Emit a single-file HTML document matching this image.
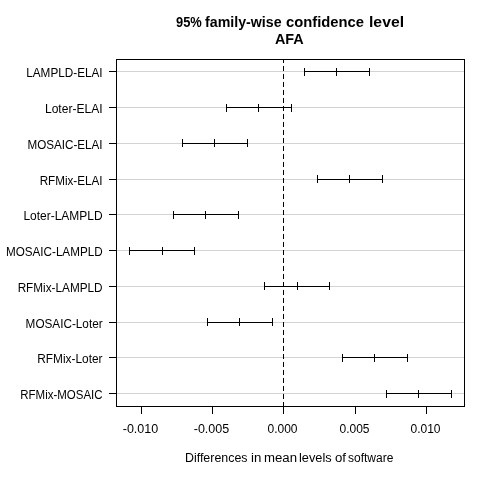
<!DOCTYPE html>
<html><head><meta charset="utf-8"><title>TukeyHSD AFA</title>
<style>
html,body{margin:0;padding:0;background:#fff;}
body{width:480px;height:480px;overflow:hidden;}
svg{display:block;}
text{font-family:"Liberation Sans",Arial,sans-serif;font-size:12px;fill:#000;}
text.b{font-weight:bold;font-size:14.4px;}
</style></head>
<body>
<svg width="480" height="480" viewBox="0 0 480 480">
<rect width="480" height="480" fill="#fff"/>
<g shape-rendering="crispEdges">
<rect x="117" y="71" width="347" height="1" fill="#d3d3d3"/>
<rect x="117" y="107" width="347" height="1" fill="#d3d3d3"/>
<rect x="117" y="143" width="347" height="1" fill="#d3d3d3"/>
<rect x="117" y="179" width="347" height="1" fill="#d3d3d3"/>
<rect x="117" y="214" width="347" height="1" fill="#d3d3d3"/>
<rect x="117" y="250" width="347" height="1" fill="#d3d3d3"/>
<rect x="117" y="286" width="347" height="1" fill="#d3d3d3"/>
<rect x="117" y="322" width="347" height="1" fill="#d3d3d3"/>
<rect x="117" y="357" width="347" height="1" fill="#d3d3d3"/>
<rect x="117" y="393" width="347" height="1" fill="#d3d3d3"/>
<rect x="283" y="60" width="1" height="3" fill="#000"/>
<rect x="283" y="66" width="1" height="5" fill="#000"/>
<rect x="283" y="74" width="1" height="5" fill="#000"/>
<rect x="283" y="82" width="1" height="5" fill="#000"/>
<rect x="283" y="90" width="1" height="5" fill="#000"/>
<rect x="283" y="98" width="1" height="5" fill="#000"/>
<rect x="283" y="106" width="1" height="5" fill="#000"/>
<rect x="283" y="114" width="1" height="5" fill="#000"/>
<rect x="283" y="122" width="1" height="5" fill="#000"/>
<rect x="283" y="130" width="1" height="5" fill="#000"/>
<rect x="283" y="138" width="1" height="5" fill="#000"/>
<rect x="283" y="146" width="1" height="5" fill="#000"/>
<rect x="283" y="154" width="1" height="5" fill="#000"/>
<rect x="283" y="162" width="1" height="5" fill="#000"/>
<rect x="283" y="170" width="1" height="5" fill="#000"/>
<rect x="283" y="178" width="1" height="5" fill="#000"/>
<rect x="283" y="186" width="1" height="5" fill="#000"/>
<rect x="283" y="194" width="1" height="5" fill="#000"/>
<rect x="283" y="202" width="1" height="5" fill="#000"/>
<rect x="283" y="210" width="1" height="5" fill="#000"/>
<rect x="283" y="218" width="1" height="5" fill="#000"/>
<rect x="283" y="226" width="1" height="5" fill="#000"/>
<rect x="283" y="234" width="1" height="5" fill="#000"/>
<rect x="283" y="242" width="1" height="5" fill="#000"/>
<rect x="283" y="250" width="1" height="5" fill="#000"/>
<rect x="283" y="258" width="1" height="5" fill="#000"/>
<rect x="283" y="266" width="1" height="5" fill="#000"/>
<rect x="283" y="274" width="1" height="5" fill="#000"/>
<rect x="283" y="282" width="1" height="5" fill="#000"/>
<rect x="283" y="290" width="1" height="5" fill="#000"/>
<rect x="283" y="298" width="1" height="5" fill="#000"/>
<rect x="283" y="306" width="1" height="5" fill="#000"/>
<rect x="283" y="314" width="1" height="5" fill="#000"/>
<rect x="283" y="322" width="1" height="5" fill="#000"/>
<rect x="283" y="330" width="1" height="5" fill="#000"/>
<rect x="283" y="338" width="1" height="5" fill="#000"/>
<rect x="283" y="346" width="1" height="5" fill="#000"/>
<rect x="283" y="354" width="1" height="5" fill="#000"/>
<rect x="283" y="362" width="1" height="5" fill="#000"/>
<rect x="283" y="370" width="1" height="5" fill="#000"/>
<rect x="283" y="378" width="1" height="5" fill="#000"/>
<rect x="283" y="386" width="1" height="5" fill="#000"/>
<rect x="283" y="394" width="1" height="5" fill="#000"/>
<rect x="283" y="402" width="1" height="4" fill="#000"/>
<rect x="304" y="71" width="66" height="1" fill="#000"/>
<rect x="304" y="68" width="1" height="8" fill="#000"/>
<rect x="336" y="68" width="1" height="8" fill="#000"/>
<rect x="369" y="68" width="1" height="8" fill="#000"/>
<rect x="226" y="107" width="66" height="1" fill="#000"/>
<rect x="226" y="104" width="1" height="8" fill="#000"/>
<rect x="258" y="104" width="1" height="8" fill="#000"/>
<rect x="291" y="104" width="1" height="8" fill="#000"/>
<rect x="182" y="143" width="66" height="1" fill="#000"/>
<rect x="182" y="139" width="1" height="8" fill="#000"/>
<rect x="214" y="139" width="1" height="8" fill="#000"/>
<rect x="247" y="139" width="1" height="8" fill="#000"/>
<rect x="317" y="179" width="66" height="1" fill="#000"/>
<rect x="317" y="175" width="1" height="8" fill="#000"/>
<rect x="349" y="175" width="1" height="8" fill="#000"/>
<rect x="382" y="175" width="1" height="8" fill="#000"/>
<rect x="173" y="214" width="66" height="1" fill="#000"/>
<rect x="173" y="211" width="1" height="8" fill="#000"/>
<rect x="205" y="211" width="1" height="8" fill="#000"/>
<rect x="238" y="211" width="1" height="8" fill="#000"/>
<rect x="129" y="250" width="66" height="1" fill="#000"/>
<rect x="129" y="247" width="1" height="8" fill="#000"/>
<rect x="162" y="247" width="1" height="8" fill="#000"/>
<rect x="194" y="247" width="1" height="8" fill="#000"/>
<rect x="264" y="286" width="66" height="1" fill="#000"/>
<rect x="264" y="282" width="1" height="8" fill="#000"/>
<rect x="297" y="282" width="1" height="8" fill="#000"/>
<rect x="329" y="282" width="1" height="8" fill="#000"/>
<rect x="207" y="322" width="66" height="1" fill="#000"/>
<rect x="207" y="318" width="1" height="8" fill="#000"/>
<rect x="239" y="318" width="1" height="8" fill="#000"/>
<rect x="272" y="318" width="1" height="8" fill="#000"/>
<rect x="342" y="357" width="66" height="1" fill="#000"/>
<rect x="342" y="354" width="1" height="8" fill="#000"/>
<rect x="374" y="354" width="1" height="8" fill="#000"/>
<rect x="407" y="354" width="1" height="8" fill="#000"/>
<rect x="386" y="393" width="66" height="1" fill="#000"/>
<rect x="386" y="390" width="1" height="8" fill="#000"/>
<rect x="418" y="390" width="1" height="8" fill="#000"/>
<rect x="451" y="390" width="1" height="8" fill="#000"/>
<rect x="116" y="59" width="349" height="1" fill="#000"/>
<rect x="116" y="406" width="349" height="1" fill="#000"/>
<rect x="116" y="59" width="1" height="348" fill="#000"/>
<rect x="464" y="59" width="1" height="348" fill="#000"/>
<rect x="109" y="71" width="7" height="1" fill="#000"/>
<rect x="109" y="107" width="7" height="1" fill="#000"/>
<rect x="109" y="143" width="7" height="1" fill="#000"/>
<rect x="109" y="179" width="7" height="1" fill="#000"/>
<rect x="109" y="214" width="7" height="1" fill="#000"/>
<rect x="109" y="250" width="7" height="1" fill="#000"/>
<rect x="109" y="286" width="7" height="1" fill="#000"/>
<rect x="109" y="322" width="7" height="1" fill="#000"/>
<rect x="109" y="357" width="7" height="1" fill="#000"/>
<rect x="109" y="393" width="7" height="1" fill="#000"/>
<rect x="141" y="406" width="1" height="8" fill="#000"/>
<rect x="212" y="406" width="1" height="8" fill="#000"/>
<rect x="283" y="406" width="1" height="8" fill="#000"/>
<rect x="355" y="406" width="1" height="8" fill="#000"/>
<rect x="426" y="406" width="1" height="8" fill="#000"/>
</g>
<g>
<text x="102.6" y="77" text-anchor="end" textLength="76.33" lengthAdjust="spacingAndGlyphs">LAMPLD-ELAI</text>
<text x="102.6" y="113" text-anchor="end" textLength="57.67" lengthAdjust="spacingAndGlyphs">Loter-ELAI</text>
<text x="102.6" y="149" text-anchor="end" textLength="75.16" lengthAdjust="spacingAndGlyphs">MOSAIC-ELAI</text>
<text x="102.6" y="185" text-anchor="end" textLength="62.97" lengthAdjust="spacingAndGlyphs">RFMix-ELAI</text>
<text x="102.6" y="220" text-anchor="end" textLength="79.17" lengthAdjust="spacingAndGlyphs">Loter-LAMPLD</text>
<text x="102.6" y="256" text-anchor="end" textLength="96.66" lengthAdjust="spacingAndGlyphs">MOSAIC-LAMPLD</text>
<text x="102.6" y="292" text-anchor="end" textLength="84.97" lengthAdjust="spacingAndGlyphs">RFMix-LAMPLD</text>
<text x="102.6" y="328" text-anchor="end" textLength="76.99" lengthAdjust="spacingAndGlyphs">MOSAIC-Loter</text>
<text x="102.6" y="363" text-anchor="end" textLength="65.32" lengthAdjust="spacingAndGlyphs">RFMix-Loter</text>
<text x="102.6" y="399" text-anchor="end" textLength="82.30" lengthAdjust="spacingAndGlyphs">RFMix-MOSAIC</text>
<text x="140.5" y="433" text-anchor="middle" textLength="35.53" lengthAdjust="spacingAndGlyphs">-0.010</text>
<text x="211.5" y="433" text-anchor="middle" textLength="35.53" lengthAdjust="spacingAndGlyphs">-0.005</text>
<text x="282.5" y="433" text-anchor="middle">0.000</text>
<text x="354.5" y="433" text-anchor="middle">0.005</text>
<text x="425.5" y="433" text-anchor="middle">0.010</text>
<text x="176" y="27" class="b" textLength="25.81" lengthAdjust="spacingAndGlyphs">95%</text>
<text x="205" y="27" class="b" textLength="76.59" lengthAdjust="spacingAndGlyphs">family-wise</text>
<text x="286" y="27" class="b" textLength="77.97" lengthAdjust="spacingAndGlyphs">confidence</text>
<text x="369" y="27" class="b" textLength="35.02" lengthAdjust="spacingAndGlyphs">level</text>
<text x="185" y="462" textLength="62.48" lengthAdjust="spacingAndGlyphs">Differences</text>
<text x="251" y="462" textLength="10.34" lengthAdjust="spacingAndGlyphs">in</text>
<text x="264" y="462" textLength="33.03" lengthAdjust="spacingAndGlyphs">mean</text>
<text x="299" y="462" textLength="32.69" lengthAdjust="spacingAndGlyphs">levels</text>
<text x="335" y="462" textLength="11.02" lengthAdjust="spacingAndGlyphs">of</text>
<text x="348" y="462">software</text>
<text x="289.3" y="44" text-anchor="middle" class="b">AFA</text>
</g>
</svg>
</body></html>
